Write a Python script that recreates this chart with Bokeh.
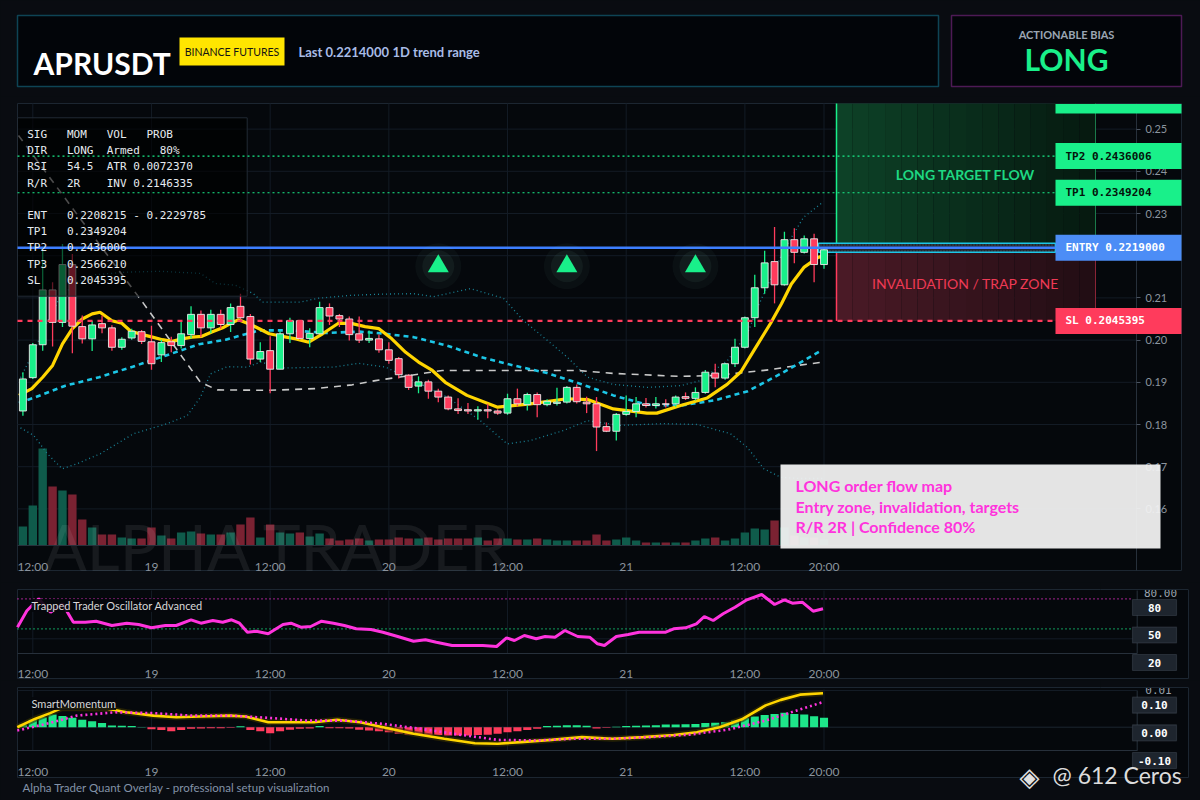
from bokeh.plotting import figure
from bokeh.models import Range1d, FixedTicker, NumeralTickFormatter, Label, BoxAnnotation
from bokeh.layouts import column
from bokeh.embed import file_html
from bokeh.resources import INLINE
from bokeh.core.properties import value

try:
    from bokeh.models import GlobalInlineStyleSheet
    CSS = [GlobalInlineStyleSheet(css="html, body { background-color: #090c11 !important; }")]
except Exception:
    CSS = []

# ---------------------------------------------------------------- data
# hourly candles, x = hours since the 18th 00:00 (18th 11:00 .. 21st 20:00)
hours = list(range(11, 93))
opens = [0.1832, 0.1911, 0.1989, 0.2119, 0.2042, 0.2179, 0.2032, 0.2003, 0.2039, 0.2029,
         0.1983, 0.2005, 0.2020, 0.1996, 0.1965, 0.1996, 0.1987, 0.2013, 0.2061, 0.2029,
         0.2061, 0.2037, 0.2080, 0.2056, 0.1955, 0.1975, 0.1931, 0.2015, 0.2046, 0.2004,
         0.2015, 0.2077, 0.2058, 0.2050, 0.2015, 0.2000, 0.2003, 0.1977, 0.1956, 0.1917,
         0.1891, 0.1901, 0.1879, 0.1865, 0.1837, 0.1835, 0.1832, 0.1835, 0.1832, 0.1827,
         0.1861, 0.1847, 0.1871, 0.1847, 0.1850, 0.1853, 0.1888, 0.1853, 0.1849, 0.1795,
         0.1784, 0.1824, 0.1831, 0.1849, 0.1845, 0.1849, 0.1849, 0.1866, 0.1862, 0.1876,
         0.1922, 0.1910, 0.1944, 0.1983, 0.2053, 0.2124, 0.2186, 0.2131, 0.2238, 0.2208,
         0.2240, 0.2179]
highs = [0.1924, 0.1993, 0.2212, 0.2137, 0.2228, 0.2204, 0.2058, 0.2046, 0.2058, 0.2035,
         0.2007, 0.2027, 0.2024, 0.2034, 0.2001, 0.2008, 0.2045, 0.2080, 0.2070, 0.2072,
         0.2072, 0.2087, 0.2110, 0.2062, 0.1995, 0.2009, 0.2021, 0.2053, 0.2046, 0.2028,
         0.2091, 0.2087, 0.2062, 0.2056, 0.2056, 0.2023, 0.2013, 0.1995, 0.1960, 0.1919,
         0.1914, 0.1906, 0.1885, 0.1869, 0.1862, 0.1851, 0.1843, 0.1849, 0.1836, 0.1873,
         0.1885, 0.1875, 0.1876, 0.1860, 0.1887, 0.1891, 0.1895, 0.1866, 0.1865, 0.1805,
         0.1827, 0.1869, 0.1865, 0.1863, 0.1865, 0.1860, 0.1869, 0.1876, 0.1888, 0.1929,
         0.1944, 0.1946, 0.2003, 0.2056, 0.2155, 0.2212, 0.2268, 0.2257, 0.2265, 0.2248,
         0.2252, 0.2216]
lows = [0.1821, 0.1908, 0.1975, 0.1985, 0.2031, 0.1969, 0.1992, 0.1974, 0.2016, 0.1975,
        0.1977, 0.2001, 0.1991, 0.1930, 0.1948, 0.1971, 0.1980, 0.2004, 0.2007, 0.2016,
        0.2027, 0.2019, 0.2048, 0.1942, 0.1948, 0.1874, 0.1931, 0.1993, 0.2000, 0.1983,
        0.2015, 0.2036, 0.2031, 0.1999, 0.1993, 0.1993, 0.1970, 0.1944, 0.1909, 0.1882,
        0.1874, 0.1861, 0.1853, 0.1834, 0.1825, 0.1825, 0.1811, 0.1815, 0.1823, 0.1823,
        0.1843, 0.1833, 0.1817, 0.1843, 0.1845, 0.1850, 0.1850, 0.1827, 0.1737, 0.1782,
        0.1762, 0.1821, 0.1817, 0.1840, 0.1838, 0.1840, 0.1842, 0.1858, 0.1857, 0.1873,
        0.1888, 0.1906, 0.1936, 0.1980, 0.2031, 0.2110, 0.2087, 0.2129, 0.2182, 0.2205,
        0.2137, 0.2169]
closes = [0.1908, 0.1989, 0.2119, 0.2042, 0.2179, 0.2033, 0.2003, 0.2036, 0.2029, 0.1983,
          0.2002, 0.2021, 0.1997, 0.1944, 0.1994, 0.1987, 0.2015, 0.2061, 0.2029, 0.2061,
          0.2037, 0.2077, 0.2053, 0.1955, 0.1973, 0.1931, 0.2015, 0.2046, 0.2004, 0.2016,
          0.2077, 0.2057, 0.2050, 0.2013, 0.2000, 0.2004, 0.1977, 0.1952, 0.1918, 0.1888,
          0.1901, 0.1879, 0.1865, 0.1837, 0.1833, 0.1832, 0.1835, 0.1832, 0.1827, 0.1861,
          0.1849, 0.1871, 0.1847, 0.1855, 0.1853, 0.1888, 0.1854, 0.1849, 0.1794, 0.1784,
          0.1824, 0.1831, 0.1849, 0.1845, 0.1849, 0.1848, 0.1865, 0.1862, 0.1876, 0.1924,
          0.1910, 0.1944, 0.1983, 0.2053, 0.2124, 0.2183, 0.2131, 0.2238, 0.2208, 0.2240,
          0.2179, 0.2214]
volume_k = [19, 40, 97, 59, 55, 51, 26, 18, 11, 11, 8, 7, 7, 18, 10, 7, 13, 14, 12, 11,
            11, 13, 21, 28, 8, 21, 13, 12, 13, 9, 12, 7, 5, 6, 7, 5, 6, 6, 8, 7,
            7, 8, 6, 7, 7, 7, 8, 5, 7, 7, 6, 6, 7, 6, 5, 5, 5, 5, 11, 5,
            6, 8, 5, 3, 3, 3, 3, 3, 5, 7, 8, 5, 7, 13, 17, 16, 25, 18, 10, 8,
            8, 6]

ema_h = [10.6, 11.9, 13.0, 14.0, 15.0, 16.0, 17.0, 18.0, 18.8, 20.0, 21.0, 21.9, 23.1, 24.1,
         25.1, 26.1, 27.1, 28.1, 29.1, 30.1, 31.2, 32.2, 32.8, 34.2, 35.9, 37.2, 38.6, 39.9,
         41.3, 42.9, 44.3, 45.6, 47.0, 48.3, 49.7, 51.0, 52.4, 53.7, 55.9, 59.0, 62.3, 66.0,
         68.1, 70.7, 74.1, 75.1, 77.5, 80.2, 82.2, 83.6, 84.9, 86.6, 87.7, 88.7, 90.0, 91.4, 92.0]
ema_p = [0.1869, 0.1885, 0.1912, 0.1940, 0.1991, 0.2027, 0.2050, 0.2062, 0.2066, 0.2046, 0.2040,
         0.2021, 0.2013, 0.2007, 0.2001, 0.1997, 0.2003, 0.2007, 0.2009, 0.2019, 0.2029, 0.2042,
         0.2048, 0.2035, 0.2015, 0.2009, 0.2003, 0.1995, 0.2015, 0.2040, 0.2039, 0.2032, 0.2027,
         0.2003, 0.1971, 0.1948, 0.1928, 0.1900, 0.1869, 0.1841, 0.1849, 0.1861, 0.1859, 0.1837,
         0.1827, 0.1827, 0.1845, 0.1863, 0.1895, 0.1925, 0.1975, 0.2040, 0.2086, 0.2133, 0.2173,
         0.2196, 0.2200]
mid_h = [10.6, 12.3, 15.3, 18.7, 22.1, 25.4, 28.8, 31.5, 34.9, 38.2, 41.6, 45.0, 47.2, 50.5,
         53.9, 57.3, 60.6, 64.0, 67.4, 70.7, 74.1, 77.5, 80.9, 84.3, 87.6, 91.7]
mid_p = [0.1851, 0.1865, 0.1892, 0.1912, 0.1937, 0.1963, 0.1990, 0.2001, 0.2023, 0.2023, 0.2017,
         0.2020, 0.2016, 0.2007, 0.1987, 0.1960, 0.1940, 0.1922, 0.1896, 0.1869, 0.1847, 0.1845,
         0.1857, 0.1879, 0.1920, 0.1975]
slow_h = [10.55, 16.82, 23.19, 28.96, 30.65, 35.83, 40.58, 44.29, 46.65, 48.98, 51.70, 53.40,
          67.08, 70.72, 77.49, 80.83, 84.27, 86.60, 89.33, 91.95]
slow_p = [0.2485, 0.2287, 0.2087, 0.1900, 0.1882, 0.1881, 0.1885, 0.1894, 0.1904, 0.1912, 0.1922,
          0.1928, 0.1928, 0.1921, 0.1914, 0.1916, 0.1924, 0.1930, 0.1940, 0.1948]
bbu_h = [10.76, 12.07, 13.28, 14.60, 16.32, 18.34, 21.37, 24.91, 28.96, 30.47, 32.49, 34.31, 35.22,
         39.07, 40.79, 44.13, 47.46, 50.49, 52.51, 56.26, 59.59, 61.62, 64.04, 66.07, 68.09, 70.72,
         74.16, 77.49, 79.52, 82.25, 84.27, 85.28, 87.91, 89.93, 91.95]
bbu_p = [0.1911, 0.1971, 0.2035, 0.2094, 0.2137, 0.2155, 0.2161, 0.2163, 0.2158, 0.2134, 0.2130,
         0.2110, 0.2090, 0.2090, 0.2099, 0.2106, 0.2109, 0.2110, 0.2103, 0.2122, 0.2099, 0.2046,
         0.1999, 0.1959, 0.1912, 0.1895, 0.1888, 0.1892, 0.1904, 0.1952, 0.2016, 0.2077, 0.2212,
         0.2291, 0.2328]
bbl_h = [10.76, 12.10, 13.46, 14.97, 16.49, 18.85, 22.18, 25.59, 27.61, 28.96, 29.97, 31.66, 33.68,
         35.02, 37.35, 42.40, 44.93, 47.66, 50.52, 53.90, 57.26, 59.97, 62.32, 65.69, 68.06, 71.42,
         75.80, 79.18, 82.55, 84.24, 85.92, 87.61, 89.63, 91.95]
bbl_p = [0.1792, 0.1774, 0.1731, 0.1695, 0.1707, 0.1731, 0.1778, 0.1802, 0.1821, 0.1865, 0.1920,
         0.1937, 0.1936, 0.1948, 0.1934, 0.1936, 0.1945, 0.1936, 0.1904, 0.1865, 0.1809, 0.1754,
         0.1762, 0.1786, 0.1809, 0.1798, 0.1802, 0.1800, 0.1778, 0.1746, 0.1695, 0.1675, 0.1672,
         0.1672]
signal_h = [53, 66, 79]
signal_p = [0.2175, 0.2175, 0.2175]

ENTRY, ENT_LO, ENT_HI = 0.2219000, 0.2208215, 0.2229785
TP1, TP2, TP3, SL = 0.2349204, 0.2436006, 0.2566210, 0.2045395

osc_h = [10.45, 11.4, 12.6, 13.8, 15.0, 16.1, 17.3, 18.4, 20.0, 21.5, 22.7, 24.0, 25.4, 26.5, 28.0,
         29.0, 30.2, 31.2, 32.1, 32.9, 33.7, 34.6, 35.8, 37.3, 38.1, 39.1, 40.1, 41.2, 42.4, 43.5,
         44.7, 46.2, 47.4, 48.9, 50.5, 51.7, 52.8, 54.4, 55.9, 57.5, 58.9, 59.9, 60.7, 61.7, 62.9,
         63.8, 64.8, 65.8, 67.1, 68.3, 69.1, 69.8, 71.0, 72.2, 73.3, 74.9, 76.0, 76.8, 78.0, 79.1,
         79.9, 80.8, 81.8, 83.0, 84.2, 85.7, 87.0, 88.0, 88.8, 89.8, 90.9, 91.9]
osc_v = [51.6, 68, 80, 66.6, 75, 56.6, 56.6, 57.6, 53.3, 55.6, 54.3, 51, 53.3, 53.3, 59, 55.6, 58.3,
         56.6, 59, 55.6, 46.6, 47.6, 45, 54.3, 55.6, 51.6, 52.3, 57.6, 55.6, 53.3, 50, 49.3, 46.6,
         42.3, 37.6, 39, 36.6, 33.3, 33.3, 33.3, 32.3, 41, 38.3, 43.3, 40, 42.3, 41.6, 48.3, 42.3,
         41.6, 35, 33.3, 42.3, 44.3, 46.6, 46.6, 46.6, 50, 51, 55, 62.3, 58.3, 65, 71.6, 79, 84.3,
         74.3, 79, 75.6, 76.6, 67.6, 70]

mom_hist = [0.010, 0.027, 0.036, 0.046, 0.041, 0.034, 0.027, 0.022, 0.015, 0.006, 0.005, 0.004,
            0.001, -0.007, -0.010, -0.015, -0.010, -0.006, -0.005, -0.004, -0.004, -0.002, 0.003,
            -0.010, -0.015, -0.022, -0.015, -0.009, -0.006, -0.005, 0.004, -0.004, -0.004, -0.005,
            -0.009, -0.012, -0.015, -0.018, -0.024, -0.027, -0.027, -0.028, -0.028, -0.030, -0.030,
            -0.030, -0.028, -0.027, -0.024, -0.018, -0.015, -0.010, -0.006, 0.004, 0.005, 0.007,
            0.007, 0.005, -0.005, -0.002, 0.002, 0.004, 0.005, 0.006, 0.007, 0.010, 0.010, 0.011,
            0.012, 0.015, 0.016, 0.018, 0.024, 0.034, 0.039, 0.044, 0.048, 0.052, 0.048, 0.046,
            0.040, 0.034]
mom_h = [10.43, 12.21, 13.76, 14.92, 16.47, 19.55, 21.47, 24.20, 26.52, 28.86, 31.94, 33.49, 35.81,
         38.13, 40.45, 42.77, 45.09, 47.42, 50.51, 53.61, 56.70, 59.02, 61.34, 64.44, 67.53, 70.63,
         73.72, 76.81, 79.14, 81.45, 83.78, 86.10, 87.64, 89.57, 91.90]
mom_v = [0.0, 0.030, 0.051, 0.069, 0.069, 0.067, 0.054, 0.042, 0.036, 0.039, 0.042, 0.039, 0.018,
         0.018, 0.018, 0.027, 0.018, 0.0, -0.024, -0.042, -0.058, -0.060, -0.054, -0.046, -0.036,
         -0.042, -0.036, -0.028, -0.018, 0.0, 0.030, 0.079, 0.099, 0.118, 0.123]
sig_h = [10.43, 13.38, 16.47, 20.34, 24.20, 28.08, 31.94, 35.81, 39.67, 43.55, 47.42, 51.28, 55.14,
         59.02, 62.89, 66.75, 70.63, 74.49, 78.36, 82.23, 86.10, 89.19, 91.90]
sig_v = [-0.012, 0.012, 0.042, 0.054, 0.051, 0.042, 0.042, 0.034, 0.024, 0.024, 0.012, -0.006,
         -0.027, -0.046, -0.048, -0.042, -0.042, -0.036, -0.027, -0.0095, 0.024, 0.060, 0.091]

x_ticks = [12, 24, 36, 48, 60, 72, 84, 92]
x_labels = ["12:00", "19", "12:00", "20", "12:00", "21", "12:00", "20:00"]
price_ticks = [0.16, 0.17, 0.18, 0.19, 0.20, 0.21, 0.22, 0.23, 0.24, 0.25]
osc_level_text = ["80", "50", "20"]
mom_level_text = ["0.10", "0.00", "-0.10"]

# ---------------------------------------------------------------- style
BG = "#090c11"
FRAME = "#05080c"
GRID = "#131b25"
AXL = "#27303b"
BORDER = "#1c2631"
TXT = "#8b949e"
GREEN = "#19f08a"
RED = "#ff3b5c"
BLUE = "#4c8df6"
CYAN = "#1cc6e6"
YEL = "#ffd500"
MAG = "#ff33dd"
TEAL = "#1a8397"
UI = "Lato"
MONO = "DejaVu Sans Mono"
OSC_TAG_Y = [607, 634.5, 662]        # page y of the oscillator scale tags
MOM_TAG_Y = [704.7, 732.3, 760]      # page y of the momentum scale tags


def HX(px):   # page x -> hours
    return 12 + (px - 32.3) / 9.89


def PY(py):   # page y -> price (main panel)
    return 0.22 - (py - 255.2) / 4220.0


def OY(py):   # page y -> oscillator value
    return 80 - (py - 598.3)


def MY(py):   # page y -> momentum value
    return (726.7 - py) / 276.0


def blend(c1, c2, t):
    a = [int(c1[i:i + 2], 16) for i in (1, 3, 5)]
    b = [int(c2[i:i + 2], 16) for i in (1, 3, 5)]
    return "#%02x%02x%02x" % tuple(int(round(a[k] + (b[k] - a[k]) * t)) for k in range(3))


def panel_fig(height, yr, yloc=None):
    f = figure(width=1200, height=height, x_range=Range1d(HX(0), HX(1200)), y_range=yr,
               y_axis_location=yloc, toolbar_location=None, output_backend="svg", title=None,
               min_border=0, background_fill_color=BG, border_fill_color=BG,
               outline_line_color=None)
    f.grid.visible = False
    return f


def style_xaxis(fig, ypos, y_top, y_bot):
    ax = fig.xaxis[0]
    ax.fixed_location = ypos
    ax.bounds = (HX(17), HX(1136.5))
    ax.ticker = FixedTicker(ticks=x_ticks)
    ax.major_label_overrides = {t: l for t, l in zip(x_ticks, x_labels)}
    ax.axis_line_color = AXL
    ax.major_tick_line_color = None
    ax.minor_tick_line_color = None
    ax.major_label_text_color = TXT
    ax.major_label_text_font = UI
    ax.major_label_text_font_size = "12px"
    ax.major_label_standoff = 7
    fig.segment(x0=x_ticks, y0=[y_bot] * len(x_ticks), x1=x_ticks, y1=[y_top] * len(x_ticks),
                line_color=GRID, line_width=1)


def tag(fig, l, r, t, b, txt, fill, col, tx, ty, size="11px", line=None, align="left"):
    fig.add_layout(BoxAnnotation(left=l, right=r, top=t, bottom=b, fill_color=fill,
                                 fill_alpha=1.0, line_color=line, line_width=1.2))
    if txt:
        fig.add_layout(Label(x=tx, y=ty, text=txt, text_color=col, text_font=MONO,
                             text_font_style="bold", text_font_size=size,
                             text_baseline="middle", text_align=align))


# ---------------------------------------------------------------- header
hdr = figure(width=1200, height=96, x_range=Range1d(0, 1200), y_range=Range1d(96, 0),
             toolbar_location=None, output_backend="svg", min_border=0, title=None,
             x_axis_location=None, y_axis_location=None,
             background_fill_color=BG, border_fill_color=BG, outline_line_color=None)
hdr.grid.visible = False
hdr.quad(left=[17], right=[938], top=[15], bottom=[86], fill_color="#020509",
         line_color="#0e4455", line_width=1.5)
hdr.quad(left=[951], right=[1181], top=[15], bottom=[86], fill_color="#020509",
         line_color="#4d1a55", line_width=1.5)
hdr.text(x=[33], y=[62], text=["APRUSDT"], text_font=value(UI), text_font_style="bold",
         text_font_size="30px", text_color="#ffffff", text_baseline="alphabetic")
hdr.quad(left=[179], right=[284], top=[37], bottom=[65], fill_color="#ffe500", line_color=None)
hdr.text(x=[231.5], y=[51.5], text=["BINANCE FUTURES"], text_font=value(UI),
         text_font_size="10.5px", text_color="#141414", text_align="center",
         text_baseline="middle")
hdr.text(x=[298], y=[51], text=["Last 0.2214000"], text_font=value(UI), text_font_style="bold",
         text_font_size="13px", text_color="#a8bce6", text_baseline="middle")
hdr.text(x=[392], y=[51], text=["1D trend range"], text_font=value(UI), text_font_style="bold",
         text_font_size="13px", text_color="#a8bce6", text_baseline="middle")
hdr.text(x=[1066], y=[34], text=["ACTIONABLE BIAS"], text_font=value(UI),
         text_font_style="bold", text_font_size="11px", text_color="#9ba5b3",
         text_align="center", text_baseline="middle")
hdr.text(x=[1066], y=[58], text=["LONG"], text_font=value(UI), text_font_style="bold",
         text_font_size="30px", text_color=GREEN, text_align="center", text_baseline="middle")

# ---------------------------------------------------------------- main price panel (page y 96..582)
p = panel_fig(486, Range1d(PY(582), PY(96)), yloc="right")
p.quad(left=[HX(17)], right=[HX(1181)], top=[PY(103)], bottom=[PY(570)], fill_color=FRAME,
       line_color=BORDER, line_width=1)
style_xaxis(p, PY(545), PY(103), PY(545))
p.segment(x0=[HX(17)] * len(price_ticks), y0=price_ticks, x1=[HX(1136)] * len(price_ticks),
          y1=price_ticks, line_color=GRID, line_width=1)
ya = p.yaxis[0]
ya.fixed_location = HX(1136)
ya.bounds = (PY(570), PY(103))
ya.ticker = FixedTicker(ticks=price_ticks)
ya.formatter = NumeralTickFormatter(format="0.00")
ya.axis_line_color = AXL
ya.major_tick_out = 4
ya.major_tick_in = 0
ya.major_tick_line_color = "#4a5360"
ya.minor_tick_line_color = None
ya.major_label_text_color = TXT
ya.major_label_text_font = UI
ya.major_label_text_font_size = "11px"
ya.major_label_standoff = 5

up = [c >= o for o, c in zip(opens, closes)]
ccol = [GREEN if u else RED for u in up]
vcol = ["#0f5b4b" if u else "#7a2232" for u in up]

# volume on its own scale: 0 sits on the price-panel floor
p.extra_y_ranges = {"vol": Range1d(-37, 449)}
p.vbar(x=hours, width=0.85, top=volume_k, bottom=0, y_range_name="vol",
       fill_color=vcol, line_color=None)
p.text(x=[HX(43)], y=[PY(546)], text=["ALPHA TRADER"], text_font=value(UI),
       text_font_size="64px", text_color="#ffffff", text_alpha=0.075,
       text_baseline="alphabetic")

# zones (gradient strips)
zl, zr = HX(836), HX(1095)
ztop = PY(103)
N = 16
lefts = [zl + (zr - zl) * k / N for k in range(N)]
rights = [zl + (zr - zl) * (k + 1) / N for k in range(N)]
p.quad(left=lefts, right=rights, bottom=[ENT_HI] * N, top=[ztop] * N,
       fill_color=[blend("#0d4127", "#061a10", k / (N - 1)) for k in range(N)], line_color=None)
p.quad(left=lefts, right=rights, bottom=[SL] * N, top=[ENT_LO] * N,
       fill_color=[blend("#4a1a26", "#220d14", k / (N - 1)) for k in range(N)], line_color=None)
p.segment(x0=[zl], y0=[ENT_HI], x1=[zl], y1=[ztop], line_color=GREEN, line_width=1.5)
p.segment(x0=[zr], y0=[ENT_HI], x1=[zr], y1=[ztop], line_color="#1a7a4a", line_width=1)
p.segment(x0=[zl], y0=[SL], x1=[zl], y1=[ENT_LO], line_color=RED, line_width=1.5)
p.segment(x0=[zr], y0=[SL], x1=[zr], y1=[ENT_LO], line_color="#8a2436", line_width=1)
p.quad(left=[HX(818)], right=[HX(1055)], bottom=[ENT_LO], top=[ENT_HI], fill_color="#39414b",
       fill_alpha=0.55, hatch_pattern="dot", hatch_color="#8a939e", hatch_alpha=0.35,
       hatch_scale=3, line_color=CYAN, line_width=1.5)

# indicator lines
p.line(bbu_h, bbu_p, line_color=TEAL, line_width=1.3, line_dash="1 3")
p.line(bbl_h, bbl_p, line_color=TEAL, line_width=1.3, line_dash="1 3")
p.line(slow_h, slow_p, line_color="#c9c9c9", line_width=1.6, line_dash="7 6")
p.line(mid_h, mid_p, line_color=CYAN, line_width=2.6, line_dash="5 4")
p.line(ema_h, ema_p, line_color=YEL, line_width=3.2)

# candles
p.segment(x0=hours, y0=lows, x1=hours, y1=highs, line_color=ccol, line_width=1.3)
p.vbar(x=hours, width=0.7, top=[max(o, c) for o, c in zip(opens, closes)],
       bottom=[min(o, c) for o, c in zip(opens, closes)], fill_color=ccol,
       line_color="#ececec", line_width=0.9)

# info panel background
p.quad(left=[HX(17)], right=[HX(246.7)], top=[PY(117.3)], bottom=[PY(295.7)],
       fill_color="#000000", fill_alpha=0.62, line_color="#222b35", line_width=1)

# level lines
lx0, lx1 = HX(17), HX(1055)
p.segment(x0=[lx0, lx0], y0=[TP2, TP1], x1=[lx1, lx1], y1=[TP2, TP1], line_color=GREEN,
          line_width=1.2, line_dash="2 3")
p.segment(x0=[lx0], y0=[ENTRY], x1=[lx1], y1=[ENTRY], line_color="#3d7eff", line_width=2.4)
p.segment(x0=[lx0], y0=[SL], x1=[lx1], y1=[SL], line_color=RED, line_width=2.2,
          line_dash="5 5")

# signal triangles with glow
p.scatter(signal_h, signal_p, marker="circle", size=46, fill_color="#aaffdd", fill_alpha=0.035,
          line_color=None)
p.scatter(signal_h, signal_p, marker="circle", size=32, fill_color="#aaffdd", fill_alpha=0.05,
          line_color=None)
p.scatter(signal_h, signal_p, marker="triangle", size=21, fill_color=GREEN, line_color=None)

# zone captions
p.text(x=[HX(965)], y=[PY(174)], text=["LONG TARGET FLOW"], text_font=value(UI),
       text_font_style="bold", text_font_size="14px", text_color="#1ed882",
       text_align="center", text_baseline="middle")
p.text(x=[HX(965)], y=[PY(283)], text=["INVALIDATION / TRAP ZONE"], text_font=value(UI),
       text_font_size="14px", text_color="#ee3a55", text_align="center",
       text_baseline="middle")

# info panel text
info_rows = ["SIG   MOM   VOL   PROB",
             "DIR   LONG  Armed   80%",
             "RSI   54.5  ATR 0.0072370",
             "R/R   2R    INV 0.2146335",
             "ENT   0.2208215 - 0.2229785",
             "TP1   0.2349204",
             "TP2   0.2436006",
             "TP3   0.2566210",
             "SL    0.2045395"]
row_y = [134, 150, 166, 182.7, 215, 230.7, 246.7, 264, 280]
p.text(x=[HX(26.7)] * len(info_rows), y=[PY(v) for v in row_y],
       text=[r.replace(" ", "\u00a0") for r in info_rows],
       text_font=value(MONO), text_font_size="11px", text_color="#e6ebf0",
       text_baseline="middle")

# right-side level tags (above the axis labels)
bx0, bx1 = HX(1055), HX(1181)
hh = 13 / 4220.0
for txt, lvl, fill, col in [("TP2 0.2436006", TP2, GREEN, "#04140b"),
                            ("TP1 0.2349204", TP1, GREEN, "#04140b"),
                            ("ENTRY 0.2219000", ENTRY, BLUE, "#ffffff"),
                            ("SL 0.2045395", SL, RED, "#ffffff")]:
    tag(p, bx0, bx1, lvl + hh, lvl - hh, txt, fill, col, HX(1065), lvl)
tag(p, bx0, bx1, PY(103.5), PY(113), "", GREEN, "#04140b", 0, 0)

# annotation note box
p.add_layout(BoxAnnotation(left=HX(780), right=HX(1160), top=PY(464), bottom=PY(548),
                           fill_color="#f2f2f2", fill_alpha=0.94, line_color=None))
for txt, yy in [("LONG order flow map", 485), ("Entry zone, invalidation, targets", 506),
                ("R/R 2R | Confidence 80%", 526)]:
    p.add_layout(Label(x=HX(795), y=PY(yy), text=txt, text_color="#ff33dd", text_font=UI,
                       text_font_style="bold", text_font_size="16px", text_baseline="middle"))

# ---------------------------------------------------------------- oscillator panel (page y 582..680)
o = panel_fig(98, Range1d(OY(680), OY(582)))
o.quad(left=[HX(17)], right=[HX(1188)], top=[OY(589)], bottom=[OY(678)], fill_color=FRAME,
       line_color=BORDER, line_width=1)
style_xaxis(o, OY(652.5), OY(590), OY(652.5))
o.segment(x0=[HX(1136.7)], y0=[OY(590)], x1=[HX(1136.7)], y1=[OY(652.5)], line_color=AXL,
          line_width=1)
o.text(x=[HX(1160)], y=[OY(592.5)], text=["80.00"], text_font=value(MONO),
       text_font_size="11px", text_color="#9aa3ad", text_align="center", text_baseline="middle")
o.quad(left=[HX(1100)], right=[HX(1200)], top=[OY(582)], bottom=[OY(589.5)], fill_color=BG,
       line_color=None)
o.segment(x0=[HX(1100)], y0=[OY(589)], x1=[HX(1188)], y1=[OY(589)], line_color=BORDER,
          line_width=1)
ox0, ox1 = HX(17), HX(1132)
o.segment(x0=[ox0], y0=[40], x1=[HX(1136.7)], y1=[40], line_color=GRID, line_width=1)
o.segment(x0=[ox0], y0=[80], x1=[ox1], y1=[80], line_color=MAG, line_width=1.2, line_dash="1 3")
o.segment(x0=[ox0], y0=[50], x1=[ox1], y1=[50], line_color=GREEN, line_width=1.2,
          line_dash="1 3")
o.line(osc_h, osc_v, line_color=MAG, line_width=3)
o.add_layout(Label(x=HX(31), y=OY(605), text="Trapped Trader Oscillator Advanced",
                   text_color="#d8d8d8", text_font=UI, text_font_size="11px",
                   text_baseline="middle", background_fill_color=FRAME,
                   background_fill_alpha=0.9))
for txt, cy in zip(osc_level_text, OSC_TAG_Y):
    tag(o, HX(1132), HX(1176), OY(cy - 8), OY(cy + 8), txt, "#1e252e", "#ffffff", HX(1154),
        OY(cy), line="#5d6774", align="center")

# ---------------------------------------------------------------- momentum panel (page y 680..800)
m = panel_fig(120, Range1d(MY(800), MY(680)))
m.quad(left=[HX(17)], right=[HX(1188)], top=[MY(687)], bottom=[MY(777)], fill_color=FRAME,
       line_color=BORDER, line_width=1)
style_xaxis(m, MY(750), MY(689), MY(750))
m.segment(x0=[HX(1136.7)], y0=[MY(690)], x1=[HX(1136.7)], y1=[MY(750)], line_color=AXL,
          line_width=1)
m.segment(x0=[HX(17)], y0=[MY(690)], x1=[HX(1136.7)], y1=[MY(690)], line_color=GRID,
          line_width=1)
m.text(x=[HX(1158)], y=[MY(689.5)], text=["0.01"], text_font=value(MONO),
       text_font_size="11px", text_color="#9aa3ad", text_align="center", text_baseline="middle")
m.quad(left=[HX(1100)], right=[HX(1200)], top=[MY(680)], bottom=[MY(687.5)], fill_color=BG,
       line_color=None)
m.segment(x0=[HX(1100)], y0=[MY(687)], x1=[HX(1188)], y1=[MY(687)], line_color=BORDER,
          line_width=1)
m.segment(x0=[HX(17)], y0=[0], x1=[HX(1132)], y1=[0], line_color=BORDER, line_width=1)
m.vbar(x=hours, width=0.82, top=mom_hist, bottom=0,
       fill_color=["#1ee68a" if v >= 0 else RED for v in mom_hist], line_color=None)
m.line(mom_h, mom_v, line_color="#3a3200", line_width=6, line_alpha=0.6)
m.line(mom_h, mom_v, line_color=YEL, line_width=2.6)
m.line(sig_h, sig_v, line_color=MAG, line_width=2.6, line_dash="2 3")
m.add_layout(Label(x=HX(31), y=MY(703), text="SmartMomentum", text_color="#d8d8d8",
                   text_font=UI, text_font_size="11px", text_baseline="middle",
                   background_fill_color=FRAME, background_fill_alpha=0.9))
for txt, cy in zip(mom_level_text, MOM_TAG_Y):
    tag(m, HX(1132), HX(1176), MY(cy - 8), MY(cy + 8), txt, "#1e252e", "#ffffff", HX(1154),
        MY(cy), line="#5d6774", align="center")
m.add_layout(Label(x=HX(22), y=MY(787),
                   text="Alpha Trader Quant Overlay - professional setup visualization",
                   text_color="#8393a8", text_font=UI, text_font_size="11.5px",
                   text_baseline="middle"))
m.add_layout(Label(x=HX(1019), y=MY(776), text="◈", text_color="#e0e0e0",
                   text_font="DejaVu Sans", text_font_size="26px", text_baseline="middle"))
m.add_layout(Label(x=HX(1052), y=MY(774), text="@ 612 Ceros", text_color="#dcdcdc",
                   text_font=UI, text_font_size="23px", text_baseline="middle"))

layout = column(hdr, p, o, m, stylesheets=CSS) if CSS else column(hdr, p, o, m)
open("out.html", "w").write(file_html(layout, INLINE))
